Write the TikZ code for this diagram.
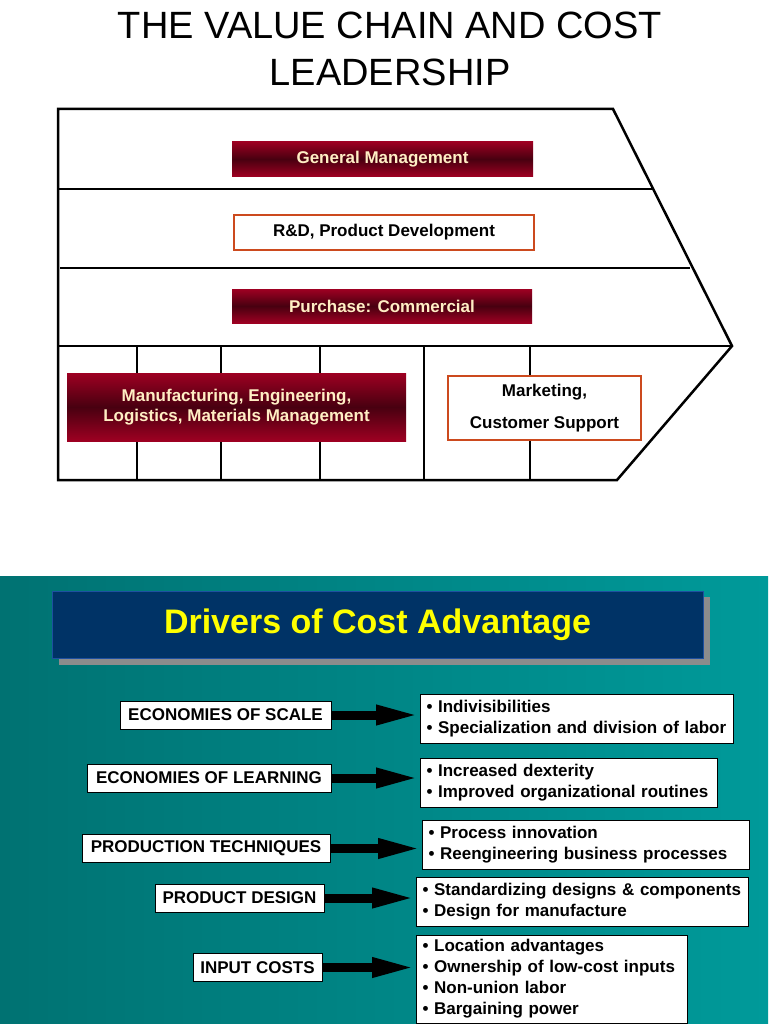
\documentclass[tikz,border=0pt]{standalone}
\usepackage{fontspec}
\setmainfont{Liberation Sans}
\usetikzlibrary{arrows.meta, positioning}

\definecolor{chainred}{RGB}{158,0,34}
\definecolor{chaindark}{RGB}{72,0,16}
\definecolor{chaincream}{RGB}{255,238,196}
\definecolor{chainorange}{RGB}{204,74,30}
\definecolor{tealdark}{RGB}{0,114,114}
\definecolor{teallight}{RGB}{0,154,154}
\definecolor{navybox}{RGB}{0,51,102}
\definecolor{navyedge}{RGB}{30,80,160}
\definecolor{driveryellow}{RGB}{255,255,0}

\begin{document}
\begin{tikzpicture}[x=1pt, y=-1pt,
  redbox/.style={top color=chainred, bottom color=chainred, middle color=chaindark,
    text=chaincream, font=\fontsize{17}{20}\selectfont\bfseries, inner sep=0pt},
  whitebox/.style={draw=chainorange, line width=2pt, fill=white,
    font=\fontsize{17}{20}\selectfont\bfseries, inner sep=0pt},
  driver/.style={draw=black, line width=1pt, fill=white, minimum height=28,
    font=\fontsize{17}{20}\selectfont\bfseries, inner sep=0pt},
  effects/.style={draw=black, line width=1pt, fill=white, anchor=west, align=left,
    font=\fontsize{17}{21}\selectfont\bfseries, inner xsep=6pt, inner ysep=0pt},
  fatarrow/.style={line width=9pt, -{Triangle[length=44pt, width=18pt]}},
]
\useasboundingbox (0,0) rectangle (768,1024);

% title
\node[font=\fontsize{38}{47}\selectfont, align=center] (title) at (390,49)
  {THE VALUE CHAIN AND COST\\LEADERSHIP};

% value chain outline
\draw[line width=2.5pt] (58,109) -- (613,109) -- (732,346) -- (617,480) -- (58,480) -- cycle;
\draw[line width=2.5pt] (58,189) -- (652,189);
\draw[line width=2pt] (60,268) -- (690,268);
\draw[line width=2.5pt] (58,346) -- (732,346);
\foreach \x in {137,221,320,424,530}
  \draw[line width=2pt] (\x,346) -- (\x,480);

\node[redbox, minimum width=301, minimum height=35] (genmgmt) at (382.5,159) {General Management};
\node[whitebox, minimum width=300, minimum height=35] (rnd) at (384,232.5) {R\&D, Product Development};
\node[redbox, minimum width=300, minimum height=34] (purchase) at (382,306) {Purchase: Commercial};
\node[redbox, minimum width=339, minimum height=68, align=center] (manuf) at (236.5,407)
  {Manufacturing, Engineering,\\Logistics, Materials Management};
\node[whitebox, minimum width=193, minimum height=64, align=center] (mktg) at (544.5,408)
  {Marketing,\\[12pt]Customer Support};

% drivers of cost advantage
\shade[left color=tealdark, right color=teallight] (0,576) rectangle (768,1024);
\fill[black!45] (59,597) rectangle (710,665);
\node[draw=navyedge, line width=1pt, fill=navybox, text=driveryellow, minimum width=651,
  minimum height=67, font=\fontsize{34}{40}\selectfont\bfseries] (drivers) at (377.5,625)
  {Drivers of Cost Advantage};

\node[driver, minimum width=211] (scale) at (225.5,715) {ECONOMIES OF SCALE};
\node[driver, minimum width=244] (learning) at (209,778) {ECONOMIES OF LEARNING};
\node[driver, minimum width=248] (technique) at (206,848.5) {PRODUCTION TECHNIQUES};
\node[driver, minimum width=169] (design) at (239.5,898) {PRODUCT DESIGN};
\node[driver, minimum width=129] (inputs) at (257.5,967.5) {INPUT COSTS};

\node[effects, text width=301, minimum height=49] (scalelist) at (420,718.5)
  {• Indivisibilities\\• Specialization and division of labor};
\node[effects, text width=285, minimum height=49] (learninglist) at (420,782.5)
  {• Increased dexterity\\• Improved organizational routines};
\node[effects, text width=315, minimum height=49] (techlist) at (422,844.5)
  {• Process innovation\\• Reengineering business processes};
\node[effects, text width=320, minimum height=49] (designlist) at (416,901.5)
  {• Standardizing designs \& components\\• Design for manufacture};
\node[effects, text width=259, minimum height=88] (inputlist) at (416,979)
  {• Location advantages\\• Ownership of low-cost inputs\\• Non-union labor\\• Bargaining power};

\draw[fatarrow] (scale.east) -- (scale.east -| scalelist.west);
\draw[fatarrow] (learning.east) -- (learning.east -| learninglist.west);
\draw[fatarrow] (technique.east) -- (technique.east -| techlist.west);
\draw[fatarrow] (design.east) -- (design.east -| designlist.west);
\draw[fatarrow] (inputs.east) -- (inputs.east -| inputlist.west);
\end{tikzpicture}
\end{document}
